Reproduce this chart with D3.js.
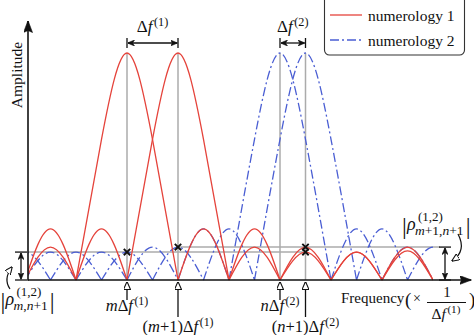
<!DOCTYPE html>
<html>
<head>
<meta charset="utf-8">
<script src="https://cdn.jsdelivr.net/npm/d3@7"></script>
<style>
  body { margin: 0; background: #fff; }
  svg { display: block; }
  text { font-family: "Liberation Serif", "Times New Roman", serif; fill: #111; }
</style>
</head>
<body>
<svg id="chart" width="474" height="335"></svg>
<script>
// Frequency in units of Δf(1); amplitude normalised to the main-lobe peak.
const redCenters = [2, 3];      // mΔf(1), (m+1)Δf(1)
const blueCenters = [5, 5.5];   // nΔf(2), (n+1)Δf(2)

// Nulls of each spectrum and the peak of every lobe between two nulls
const redMZeros   = [0, 1, 3, 4, 5, 6, 7, 8];
const redMPeaks   = [0.225, 1, 0.225, 0.145, 0.123, 0.123, 0.128];
const redM1Zeros  = [0, 1, 2, 4, 5, 6, 7, 8];
const redM1Peaks  = [0.145, 0.225, 1, 0.225, 0.145, 0.123, 0.145];
const blueNZeros  = [0, 1, 2, 3, 4, 6, 7, 8];
const blueNPeaks  = [0.123, 0.123, 0.145, 0.225, 1, 0.225, 0.145];
const blueN1Zeros = [-0.5, 0.5, 1.5, 2.5, 3.5, 4.5, 6.5, 7.5, 8.5];
const blueN1Peaks = [0.123, 0.123, 0.123, 0.145, 0.225, 1, 0.225, 0.145];
// main-lobe level halfway between its peak and its first null
const mainLobeShoulder = 0.62;

const legendLabels = ["numerology 1", "numerology 2"];
const freqEnd = 8;

const RED = "#e5433b", BLUE = "#4a5ed3", GRAY = "#ababab";

const svg = d3.select("#chart");
const x = d3.scaleLinear().domain([0, freqEnd]).range([25, 433]);
const y = d3.scaleLinear().domain([0, 1]).range([280, 53]);
const axisX = 28;

// ---------- markers ----------
const defs = svg.append("defs");
function marker(id, w, h, filled) {
  defs.append("marker").attr("id", id)
    .attr("viewBox", `0 0 ${w} ${h}`).attr("refX", w - 0.5).attr("refY", h / 2)
    .attr("markerWidth", w).attr("markerHeight", h).attr("markerUnits", "userSpaceOnUse")
    .attr("orient", "auto-start-reverse")
    .append("path").attr("d", `M0,0 L${w},${h / 2} L0,${h} ${filled ? "L2," + h / 2 : ""}Z`)
    .attr("fill", filled ? "#111" : "#fff").attr("stroke", "#111")
    .attr("stroke-width", filled ? 0.6 : 1.1).attr("stroke-linejoin", "miter");
}
marker("axisHead", 12, 9, true);
marker("dimHead", 7, 6, true);
marker("hollowHead", 8, 7, false);

defs.append("clipPath").attr("id", "plotClip")
  .append("rect").attr("x", axisX).attr("y", 0).attr("width", x(freqEnd) - axisX).attr("height", 290);

// ---------- helpers ----------
function lobes(zeros, peaks) {
  return d3.pairs(zeros).map(([a, b], i) => {
    const h = peaks[i], m = (a + b) / 2, q = (b - a) / 4;
    return (b - a) > 1.5
      ? [[a, 0], [m - q, h * mainLobeShoulder], [m, h], [m + q, h * mainLobeShoulder], [b, 0]]
      : [[a, 0], [m, h], [b, 0]];
  });
}
function valueAt(zeros, peaks, f) {
  const i = d3.bisectRight(zeros, f) - 1;
  const a = zeros[i], b = zeros[i + 1];
  return peaks[i] * Math.sin(Math.PI * (f - a) / (b - a));
}
const lobeLine = d3.line().x(d => x(d[0])).y(d => y(d[1])).curve(d3.curveNatural);

// text with italic / superscript runs
function mathText(sel, px, py, parts, size, anchor) {
  const t = sel.append("text").attr("x", px).attr("y", py)
    .attr("font-size", size).attr("text-anchor", anchor || "middle");
  let shift = 0;
  parts.forEach(p => {
    const s = t.append("tspan").text(p.t);
    if (p.it) s.attr("font-style", "italic");
    const target = p.sup ? -0.38 * size : 0;
    if (target !== shift) { s.attr("dy", target - shift); shift = target; }
    if (p.sup) s.attr("font-size", size * 0.72);
    if (p.dx) s.attr("dx", p.dx);
  });
  return t;
}

// ---------- reference lines ----------
const rhoA = valueAt(blueN1Zeros, blueN1Peaks, redCenters[0]);   // |ρ(1,2) m,n+1|
const rhoB = valueAt(blueN1Zeros, blueN1Peaks, redCenters[1]);   // |ρ(1,2) m+1,n+1|

const guides = svg.append("g").attr("stroke", GRAY).attr("stroke-width", 1.5);
redCenters.concat(blueCenters).forEach(c => {
  guides.append("line").attr("x1", x(c)).attr("x2", x(c)).attr("y1", y(0)).attr("y2", y(1));
});
guides.append("line").attr("x1", axisX).attr("x2", x(blueCenters[1])).attr("y1", y(rhoA)).attr("y2", y(rhoA));
guides.append("line").attr("x1", x(redCenters[1])).attr("x2", 440).attr("y1", y(rhoB)).attr("y2", y(rhoB));

// ---------- spectra ----------
const plot = svg.append("g").attr("clip-path", "url(#plotClip)").attr("fill", "none");
[[blueNZeros, blueNPeaks], [blueN1Zeros, blueN1Peaks]].forEach(([z, p]) => {
  plot.append("path").attr("d", lobes(z, p).map(l => lobeLine(l)).join(""))
    .attr("stroke", BLUE).attr("stroke-width", 1.3).attr("stroke-dasharray", "9,3,2,3");
});
[[redMZeros, redMPeaks], [redM1Zeros, redM1Peaks]].forEach(([z, p]) => {
  plot.append("path").attr("d", lobes(z, p).map(l => lobeLine(l)).join(""))
    .attr("stroke", RED).attr("stroke-width", 1.3);
});

// interference samples
const crosses = [
  [redCenters[0], rhoA],
  [redCenters[1], rhoB],
  [blueCenters[1], valueAt(redMZeros, redMPeaks, blueCenters[1])],
  [blueCenters[1], valueAt(redM1Zeros, redM1Peaks, blueCenters[1])]
];
svg.append("g").selectAll("path").data(crosses).join("path")
  .attr("transform", d => `translate(${x(d[0])},${y(d[1])})`)
  .attr("d", "M-3.2,-3.2L3.2,3.2M-3.2,3.2L3.2,-3.2").attr("stroke", "#111").attr("stroke-width", 1.9);

// ---------- axes ----------
const axes = svg.append("g").attr("stroke", "#111").attr("stroke-width", 1.6);
axes.append("line").attr("x1", axisX).attr("x2", 471).attr("y1", y(0)).attr("y2", y(0)).attr("marker-end", "url(#axisHead)");
axes.append("line").attr("x1", axisX).attr("x2", axisX).attr("y1", y(0) + 0.8).attr("y2", 21).attr("marker-end", "url(#axisHead)");

svg.append("text").attr("transform", `translate(21.5,75) rotate(-90)`)
  .attr("text-anchor", "middle").attr("font-size", 15.5).text("Amplitude");

// frequency label with unit fraction
svg.append("text").attr("x", 341).attr("y", 303).attr("font-size", 15).text("Frequency");
svg.append("text").attr("x", 405).attr("y", 306).attr("font-size", 19).text("(");
svg.append("text").attr("x", 413).attr("y", 303).attr("font-size", 14).text("×");
svg.append("text").attr("x", 447).attr("y", 297).attr("font-size", 15).attr("text-anchor", "middle").text("1");
svg.append("line").attr("x1", 427).attr("x2", 466).attr("y1", 302.5).attr("y2", 302.5).attr("stroke", "#111").attr("stroke-width", 1);
mathText(svg, 446, 318.5, [{ t: "Δ" }, { t: "f", it: 1 }, { t: "(1)", sup: 1, dx: 1.5 }], 15.5);
svg.append("text").attr("x", 469).attr("y", 306).attr("font-size", 19).text(")");

// ---------- subcarrier spacing dimensions ----------
function spacing(c0, c1, label) {
  const g = svg.append("g").attr("stroke", "#111").attr("stroke-width", 1.3);
  g.append("line").attr("x1", x(c0)).attr("x2", x(c0)).attr("y1", 38).attr("y2", 48);
  g.append("line").attr("x1", x(c1)).attr("x2", x(c1)).attr("y1", 38).attr("y2", 48);
  g.append("line").attr("x1", x(c0) + 1).attr("x2", x(c1) - 1).attr("y1", 43).attr("y2", 43)
    .attr("marker-start", "url(#dimHead)").attr("marker-end", "url(#dimHead)");
  mathText(svg, (x(c0) + x(c1)) / 2, 32, [{ t: "Δ" }, { t: "f", it: 1 }, { t: label, sup: 1, dx: 1.5 }], 17);
}
spacing(redCenters[0], redCenters[1], "(1)");
spacing(blueCenters[0], blueCenters[1], "(2)");

// ---------- subcarrier position markers ----------
const posLabels = [
  { f: redCenters[0], len: 18, base: 311,
    parts: [{ t: "m", it: 1 }, { t: "Δ" }, { t: "f", it: 1 }, { t: "(1)", sup: 1, dx: 1.5 }] },
  { f: redCenters[1], len: 35, base: 332,
    parts: [{ t: "(" }, { t: "m", it: 1 }, { t: "+1)" }, { t: "Δ" }, { t: "f", it: 1 }, { t: "(1)", sup: 1, dx: 1.5 }] },
  { f: blueCenters[0], len: 18, base: 311,
    parts: [{ t: "n", it: 1 }, { t: "Δ" }, { t: "f", it: 1 }, { t: "(2)", sup: 1, dx: 1.5 }] },
  { f: blueCenters[1], len: 35, base: 332,
    parts: [{ t: "(" }, { t: "n", it: 1 }, { t: "+1)" }, { t: "Δ" }, { t: "f", it: 1 }, { t: "(2)", sup: 1, dx: 1.5 }] }
];
posLabels.forEach(p => {
  svg.append("line").attr("x1", x(p.f)).attr("x2", x(p.f)).attr("y1", y(0) + p.len + 2).attr("y2", y(0) + 2)
    .attr("stroke", "#111").attr("stroke-width", 1.3).attr("marker-end", "url(#hollowHead)");
  mathText(svg, x(p.f), p.base, p.parts, 16.5);
});

// ---------- correlation brackets ----------
function bracket(bx, v) {
  const g = svg.append("g").attr("stroke", "#111").attr("stroke-width", 1.3);
  g.append("line").attr("x1", bx - 6).attr("x2", bx + 6).attr("y1", y(v)).attr("y2", y(v));
  g.append("line").attr("x1", bx - 6).attr("x2", bx + 6).attr("y1", y(0)).attr("y2", y(0));
  g.append("line").attr("x1", bx).attr("x2", bx).attr("y1", y(v) + 1).attr("y2", y(0) - 1)
    .attr("marker-start", "url(#dimHead)").attr("marker-end", "url(#dimHead)");
}
bracket(21, rhoA);
bracket(445, rhoB);

function rhoLabel(lx, base, sub) {
  const g = svg.append("g");
  g.append("text").attr("x", lx).attr("y", base + 4).attr("font-size", 24).text("|");
  g.append("text").attr("x", lx + 5).attr("y", base).attr("font-size", 18).attr("font-style", "italic").text("ρ");
  g.append("text").attr("x", lx + 16).attr("y", base - 9).attr("font-size", 13).text("(1,2)");
  const s = g.append("text").attr("x", lx + 13).attr("y", base + 4.5).attr("font-size", 13.5);
  sub.forEach(p => { const t = s.append("tspan").text(p.t); if (p.it) t.attr("font-style", "italic"); });
  const w = s.node().getComputedTextLength();
  g.append("text").attr("x", lx + 15 + w).attr("y", base + 4).attr("font-size", 24).text("|");
}
rhoLabel(0.5, 305, [{ t: "m", it: 1 }, { t: "," }, { t: "n", it: 1 }, { t: "+1" }]);
rhoLabel(402, 230, [{ t: "m", it: 1 }, { t: "+1," }, { t: "n", it: 1 }, { t: "+1" }]);

// curved pointers to the brackets
svg.append("path").attr("d", "M10,289 Q3,279 12,267").attr("fill", "none")
  .attr("stroke", "#111").attr("stroke-width", 1.2).attr("marker-end", "url(#hollowHead)");
svg.append("path").attr("d", "M458,234 Q467,251 452,261").attr("fill", "none")
  .attr("stroke", "#111").attr("stroke-width", 1.2).attr("marker-end", "url(#hollowHead)");

// ---------- legend ----------
const lg = svg.append("g");
lg.append("rect").attr("x", 324.5).attr("y", -6).attr("width", 140).attr("height", 61).attr("rx", 5)
  .attr("fill", "#fff").attr("stroke", "#333").attr("stroke-width", 1.1);
legendLabels.forEach((name, i) => {
  const ly = 15 + i * 25;
  lg.append("line").attr("x1", 330).attr("x2", 362).attr("y1", ly).attr("y2", ly)
    .attr("stroke", i === 0 ? RED : BLUE).attr("stroke-width", 1.3)
    .attr("stroke-dasharray", i === 0 ? null : "9,3,2,3");
  lg.append("text").attr("x", 368).attr("y", ly + 6).attr("font-size", 15.5).text(name);
});
</script>
</body>
</html>
